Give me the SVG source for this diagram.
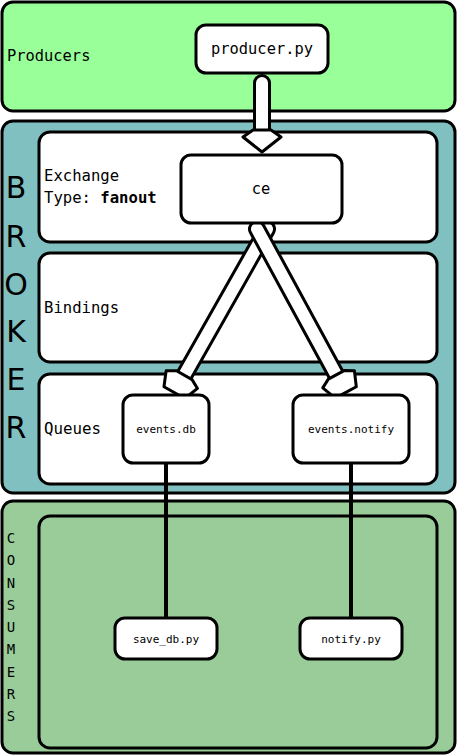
<svg xmlns="http://www.w3.org/2000/svg" width="457" height="756" viewBox="0 0 457 756">
<style>
.box{stroke:#000;stroke-width:3}
.node{fill:#fff;stroke:#000;stroke-width:3}
.t{font-family:"DejaVu Sans Mono",monospace;fill:#000}
.big{font-family:"DejaVu Sans",sans-serif;font-size:30px;text-anchor:middle;fill:#000}
.vs{font-family:"DejaVu Sans Mono",monospace;font-size:14px;text-anchor:middle;fill:#000}
.sh-o{fill:none;stroke:#000;stroke-width:18;stroke-linecap:round}
.sh-i{fill:none;stroke:#fff;stroke-width:12;stroke-linecap:round}
.head{fill:#fff;stroke:#000;stroke-width:3;stroke-linejoin:round}
.line{stroke:#000;stroke-width:4}
</style>
<g id="producers">
<rect class="box" x="2" y="2" width="453" height="109" rx="11" fill="#99ff99"/>
<text class="t" x="7" y="61" font-size="15.4">Producers</text>
</g>
<g id="broker">
<rect class="box" x="2" y="121" width="453" height="372" rx="11" fill="#80c0c0"/>
<text class="big" x="16" y="198">B</text>
<text class="big" x="16" y="247">R</text>
<text class="big" x="16" y="295">O</text>
<text class="big" x="16" y="342">K</text>
<text class="big" x="16" y="390">E</text>
<text class="big" x="16" y="438">R</text>
</g>
<g id="exchange">
<rect class="box" x="39" y="132" width="398" height="110" rx="11" fill="#fff"/>
<text class="t" x="44" y="181" font-size="15.6">Exchange</text>
<text class="t" x="44" y="203" font-size="15.6">Type: <tspan font-weight="bold">fanout</tspan></text>
</g>
<g id="bindings">
<rect class="box" x="39" y="253" width="398" height="109" rx="11" fill="#fff"/>
<text class="t" x="44" y="313" font-size="15.6">Bindings</text>
</g>
<g id="queues">
<rect class="box" x="39" y="374" width="398" height="110" rx="11" fill="#fff"/>
<text class="t" x="44" y="434" font-size="15.8">Queues</text>
</g>
<g id="consumers">
<rect class="box" x="2" y="501" width="453" height="252" rx="11" fill="#99cc99"/>
<rect class="box" x="39" y="516" width="398" height="232" rx="11" fill="#99cc99"/>
<text class="vs" x="11" y="543">C</text>
<text class="vs" x="11" y="565">O</text>
<text class="vs" x="11" y="588">N</text>
<text class="vs" x="11" y="610">S</text>
<text class="vs" x="11" y="632">U</text>
<text class="vs" x="11" y="654">M</text>
<text class="vs" x="11" y="677">E</text>
<text class="vs" x="11" y="699">R</text>
<text class="vs" x="11" y="721">S</text>
</g>
<g id="connectors">
<line class="line" x1="166" y1="463" x2="166" y2="618"/>
<line class="line" x1="351" y1="463" x2="351" y2="618"/>
<g>
<line class="sh-o" x1="262" y1="83" x2="262" y2="132"/>
<line class="sh-i" x1="262" y1="83" x2="262" y2="134"/>
<polygon class="head" points="253,130 243,137 262,152 281,137 271,130"/>
</g>
<g transform="translate(267,229) rotate(29.5)">
<line class="sh-o" x1="0" y1="0" x2="0" y2="170"/>
<line class="sh-i" x1="0" y1="0" x2="0" y2="172"/>
<polygon class="head" points="-9,168 -18,173 -12,188 12,188 18,173 9,168"/>
</g>
<g transform="translate(257,229) rotate(-28.5)">
<line class="sh-o" x1="0" y1="0" x2="0" y2="168"/>
<line class="sh-i" x1="0" y1="0" x2="0" y2="170"/>
<polygon class="head" points="-9,166 -18,171 -12,186 12,186 18,171 9,166"/>
</g>
</g>
<g id="producer_py">
<rect class="node" x="196" y="25" width="132" height="48" rx="10"/>
<text class="t" x="262" y="54" font-size="15.4" text-anchor="middle">producer.py</text>
</g>
<g id="ce">
<rect class="node" x="181" y="155" width="161" height="68" rx="10"/>
<text class="t" x="261" y="194" font-size="15.4" text-anchor="middle">ce</text>
</g>
<g id="events_db">
<rect class="node" x="123" y="395" width="86" height="68" rx="10"/>
<text class="t" x="166" y="433" font-size="11" text-anchor="middle">events.db</text>
</g>
<g id="events_notify">
<rect class="node" x="293" y="395" width="116" height="68" rx="10"/>
<text class="t" x="351" y="433" font-size="11" text-anchor="middle">events.notify</text>
</g>
<g id="save_db">
<rect class="node" x="115" y="618" width="102" height="41" rx="10"/>
<text class="t" x="166" y="643" font-size="11" text-anchor="middle">save_db.py</text>
</g>
<g id="notify">
<rect class="node" x="300" y="618" width="102" height="41" rx="10"/>
<text class="t" x="351" y="643" font-size="11" text-anchor="middle">notify.py</text>
</g>
</svg>
